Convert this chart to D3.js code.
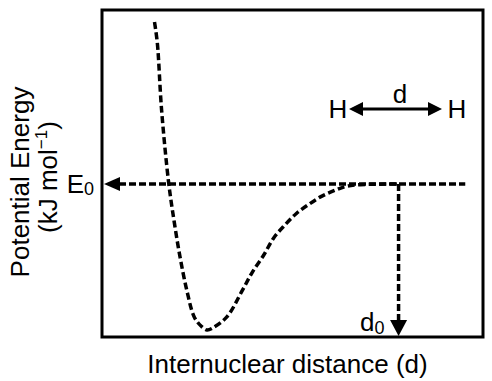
<!DOCTYPE html>
<html>
<head>
<meta charset="utf-8">
<script src="https://cdn.jsdelivr.net/npm/d3@7"></script>
<style>
  html, body { margin: 0; padding: 0; background: #fff; }
  svg { display: block; font-family: "Liberation Sans", Arial, sans-serif; }
</style>
</head>
<body>
<div id="chart"></div>
<script>
// internuclear distance (pm) and potential energy (kJ/mol)
const distance = [37, 39, 42, 47, 51, 55, 60, 65, 70, 74, 78, 88, 99, 106, 114, 121, 129, 137, 146, 155, 164, 172, 182, 209];
const energy = [484, 421, 221, 3, -116, -218, -322, -397, -425, -436, -430, -397, -317, -263, -212, -161, -122, -88, -60, -36, -19, -7, -2, 0];

const E0 = 0;
const d0 = 209;
const e0LineEnd = 256;

const xDomain = [0, 268.5];
const yDomain = [-457, 520];

const xLabel = "Internuclear distance (d)";
const yLabelLines = ["Potential Energy", "(kJ mol"];

const width = 492;
const height = 381;
const frame = { left: 102, right: 483, top: 10, bottom: 337 };

const svg = d3.select("#chart")
  .append("svg")
  .attr("width", width)
  .attr("height", height)
  .attr("viewBox", [0, 0, width, height]);

const x = d3.scaleLinear().domain(xDomain).range([frame.left, frame.right]);
const y = d3.scaleLinear().domain(yDomain).range([frame.bottom, frame.top]);

const data = distance.map((d, i) => ({ d, e: energy[i] }));

// frame
svg.append("rect")
  .attr("x", x.range()[0])
  .attr("y", y.range()[1])
  .attr("width", x.range()[1] - x.range()[0])
  .attr("height", y.range()[0] - y.range()[1])
  .attr("fill", "none")
  .attr("stroke", "#000")
  .attr("stroke-width", 3);

// E0 dashed line with arrow pointing to the axis
const e0y = y(E0);
svg.append("line")
  .attr("x1", x.range()[0] + 17)
  .attr("y1", e0y)
  .attr("x2", x(e0LineEnd))
  .attr("y2", e0y)
  .attr("stroke", "#000")
  .attr("stroke-width", 3.5)
  .attr("stroke-dasharray", "7,3");

svg.append("path")
  .attr("d", `M${x.range()[0] + 2},${e0y} l16,-7 l0,14 Z`)
  .attr("fill", "#000");

// d0 dashed drop line
const d0x = x(d0);
svg.append("line")
  .attr("x1", d0x)
  .attr("y1", e0y)
  .attr("x2", d0x)
  .attr("y2", y.range()[0] - 17)
  .attr("stroke", "#000")
  .attr("stroke-width", 3.5)
  .attr("stroke-dasharray", "7,3");

svg.append("path")
  .attr("d", `M${d0x},${y.range()[0] - 1} l-8.5,-16 l17,0 Z`)
  .attr("fill", "#000");

// potential energy curve
const line = d3.line()
  .x((p) => x(p.d))
  .y((p) => y(p.e))
  .curve(d3.curveCatmullRom.alpha(0.5));

svg.append("path")
  .datum(data)
  .attr("fill", "none")
  .attr("stroke", "#000")
  .attr("stroke-width", 3.5)
  .attr("stroke-dasharray", "7,3.5")
  .attr("d", line);

// E0 label
const e0Text = svg.append("text")
  .attr("x", 94)
  .attr("y", e0y + 9)
  .attr("text-anchor", "end")
  .attr("font-size", 26);
e0Text.append("tspan").text("E");
e0Text.append("tspan").attr("font-size", 18).attr("dy", 2).text("0");

// d0 label
const d0Text = svg.append("text")
  .attr("x", d0x - 14)
  .attr("y", y.range()[0] - 6)
  .attr("text-anchor", "end")
  .attr("font-size", 26);
d0Text.append("tspan").text("d");
d0Text.append("tspan").attr("font-size", 18).attr("dy", 3).text("0");

// H <-> H inset
const hh = svg.append("g");
hh.append("text").attr("x", 338).attr("y", 118).attr("text-anchor", "middle").attr("font-size", 26).text("H");
hh.append("text").attr("x", 457).attr("y", 118).attr("text-anchor", "middle").attr("font-size", 26).text("H");
hh.append("text").attr("x", 400).attr("y", 103).attr("text-anchor", "middle").attr("font-size", 26).text("d");
hh.append("line")
  .attr("x1", 360).attr("y1", 109).attr("x2", 431).attr("y2", 109)
  .attr("stroke", "#000").attr("stroke-width", 3);
hh.append("path").attr("d", "M349,109 l14,-7 l0,14 Z").attr("fill", "#000");
hh.append("path").attr("d", "M442,109 l-14,-7 l0,14 Z").attr("fill", "#000");

// axis titles
svg.append("text")
  .attr("x", (x.range()[0] + x.range()[1]) / 2 - 5)
  .attr("y", 373)
  .attr("text-anchor", "middle")
  .attr("font-size", 26)
  .text(xLabel);

svg.append("text")
  .attr("transform", `translate(29,182) rotate(-90)`)
  .attr("text-anchor", "middle")
  .attr("font-size", 26)
  .text(yLabelLines[0]);

const unit = svg.append("text")
  .attr("transform", `translate(57,177) rotate(-90)`)
  .attr("text-anchor", "middle")
  .attr("font-size", 26);
unit.append("tspan").text(yLabelLines[1]);
unit.append("tspan").attr("font-size", 17).attr("dy", -10).text("−1");
unit.append("tspan").attr("dy", 10).text(")");
</script>
</body>
</html>
